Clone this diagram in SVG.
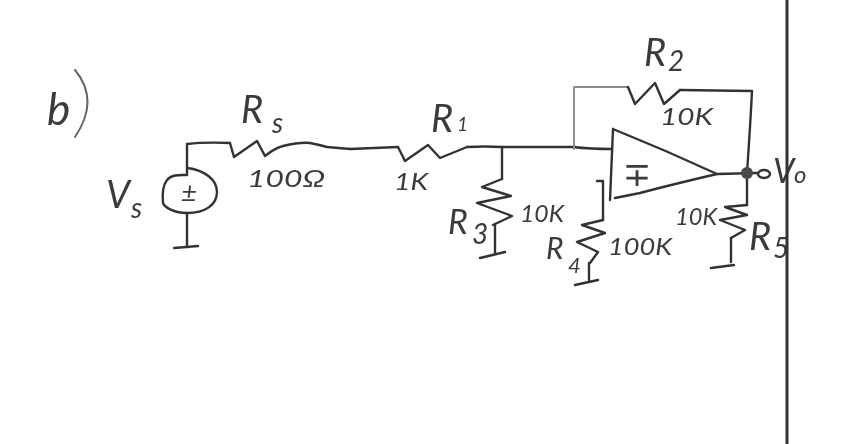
<svg xmlns="http://www.w3.org/2000/svg" width="867" height="444" viewBox="0 0 867 444">
<style>
.w{fill:none;stroke:#333;stroke-width:2.4;stroke-linecap:round;stroke-linejoin:round}
.lw{stroke:#8a8a8a;stroke-width:1.9}
.md{stroke:#666;stroke-width:2}
.t{font-family:"Lato","Liberation Sans",sans-serif;font-style:italic;font-weight:400;fill:#3a3a3a}
.big{font-size:38px}
.sub{font-size:28px}
.val{font-size:24px}
</style>
<defs><filter id="soft" x="-5%" y="-5%" width="110%" height="110%"><feGaussianBlur stdDeviation="0.45"/></filter></defs>
<rect width="867" height="444" fill="#fff"/>
<g filter="url(#soft)">
<g id="connectors">
<path class="w" d="M187 168V144Q205 142 230 143"/>
<path class="w" d="M350 149Q375 148 398 147M467 147Q485 146 502 147H573Q590 149 612 149"/>
<path class="w lw" d="M574 149V87H628"/>
<path class="w" d="M680 90L752 91Q750 130 747 173V205"/>
<path class="w" d="M717 174L757 173"/>
<path class="w" d="M187 213V247"/>
<path class="w" d="M502 147V179"/>
<path class="w" d="M495 225V253"/>
<path class="w" d="M589 263V280"/>
<path class="w" d="M731 238V262"/>
<path class="w" d="M597 181H603V220"/>
</g>
<g id="label-b"><text class="t" x="47" y="125" font-size="44">b</text><path class="w md" d="M75 70Q100 100 75 137"/></g>
<g id="source"><path class="w" d="M187 168C205 170 217 180 217 192C217 205 205 213 187 213C175 213 165 208 163 203C162 192 163 185 167 180C172 174 180 175 187 175Z"/><text class="t" x="189" y="202" font-size="27" text-anchor="middle" font-style="normal">±</text><text class="t big" x="106" y="208">V</text><text class="t sub" x="131" y="218">s</text></g>
<g id="gnd-source"><path class="w" d="M174 248L198 246"/></g>
<g id="rs"><path class="w" d="M230 143L234 157L257 141L265 156Q275 148 283 146Q300 142 310 143Q320 145 327 147L350 149"/><text class="t big" x="241" y="123">R</text><text class="t sub" x="272" y="133">s</text><text class="t val" x="247" y="187" textLength="78" lengthAdjust="spacingAndGlyphs">100Ω</text></g>
<g id="r1"><path class="w" d="M398 147L405 161L428 145L440 158L467 147"/><text class="t big" x="431" y="132">R</text><text class="t" x="457" y="131" font-size="19">1</text><text class="t val" x="394" y="190" textLength="34" lengthAdjust="spacingAndGlyphs">1K</text></g>
<g id="r2"><path class="w" d="M628 87L635 104L655 83L664 104L680 90"/><text class="t big" x="644" y="66">R</text><text class="t sub" x="668" y="71">2</text><text class="t val" x="660" y="125" textLength="53" lengthAdjust="spacingAndGlyphs">10K</text></g>
<g id="r3"><path class="w" d="M502 179L482 187L511 196L477 203L512 216L493 225"/><path class="w" d="M480 258L505 252"/><text class="t" x="448" y="234" font-size="34">R</text><text class="t sub" x="472" y="244">3</text><text class="t val" x="520" y="222" textLength="44" lengthAdjust="spacingAndGlyphs">10K</text></g>
<g id="r4"><path class="w" d="M603 220L582 225L605 233L577 242L598 252L590 263"/><path class="w" d="M575 285L598 280"/><text class="t" x="546" y="259" font-size="30">R</text><text class="t" x="568" y="273" font-size="22">4</text><text class="t val" x="608" y="255" textLength="64" lengthAdjust="spacingAndGlyphs">100K</text></g>
<g id="r5"><path class="w" d="M747 205L725 207L747 215L720 220L745 230L731 238"/><path class="w" d="M711 268L734 265"/><text class="t big" x="749" y="250">R</text><text class="t sub" x="773" y="258">5</text><text class="t val" x="675" y="225" textLength="42" lengthAdjust="spacingAndGlyphs">10K</text></g>
<g id="opamp"><path class="w" d="M613 129Q665 150 717 174Q670 185 640 193L615 198M613 129L610 200"/><text x="637" y="186" font-size="34" text-anchor="middle" fill="#3a3a3a" font-family="DejaVu Sans, sans-serif">∓</text></g>
<g id="output"><circle cx="747" cy="173" r="6" fill="#4a4a4a"/><ellipse class="w" cx="764" cy="174" rx="6" ry="4"/><text class="t" x="773" y="183" font-size="34">V</text><text class="t" x="794" y="183" font-size="24">o</text></g>
<g id="border"><path d="M787 0V444" stroke="#333" stroke-width="3" fill="none"/></g>
</g>
</svg>
